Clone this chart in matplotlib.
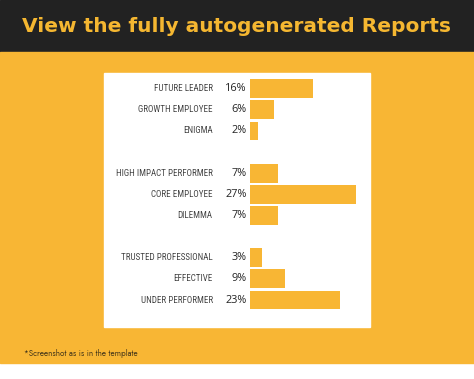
import matplotlib.pyplot as plt
from matplotlib.patches import Rectangle

categories = ["FUTURE LEADER", "GROWTH EMPLOYEE", "ENIGMA",
              "HIGH IMPACT PERFORMER", "CORE EMPLOYEE", "DILEMMA",
              "TRUSTED PROFESSIONAL", "EFFECTIVE", "UNDER PERFORMER"]
values = [16, 6, 2, 7, 27, 7, 3, 9, 23]
positions = [0, 1, 2, 4, 5, 6, 8, 9, 10]

orange = "#F8B634"
dark = "#222222"

fig = plt.figure(figsize=(4.74, 3.79), dpi=100)
W, H = 474, 379

# background blocks
fig.patches.append(Rectangle((0, 1 - 52 / H), 1, 52 / H, transform=fig.transFigure, color=dark, zorder=-10))
fig.patches.append(Rectangle((0, 1 - 363 / H), 1, (363 - 52) / H, transform=fig.transFigure, color=orange, zorder=-10))
fig.patches.append(Rectangle((104 / W, 1 - 327 / H), (370 - 104) / W, (327 - 73) / H,
                             transform=fig.transFigure, color="white", zorder=-9))

fig.text(0.5, 1 - 26 / H, "View the fully autogenerated Reports", ha="center", va="center",
         color="#F5B731", fontsize=14.5, fontweight="bold", family="DejaVu Sans")
fig.text(24 / W, 1 - 353 / H, "*Screenshot as is in the template", ha="left", va="center",
         color="#4a3a1a", fontsize=5.9, family=["Jost", "Lato"])

ax = fig.add_axes([250 / W, 1 - 310.6 / H, 118 / W, (310.6 - 78.1) / H], zorder=1)
ax.barh(positions, values, height=0.89, color=orange)
ax.set_xlim(0, 30)
ax.set_ylim(10.5, -0.5)
ax.axis("off")

for p, c, v in zip(positions, categories, values):
    ax.annotate(c, (0, p), xytext=(-26.9, 0), textcoords="offset points", ha="right", va="center",
                fontsize=6.5, color="#444444", family=["Roboto Condensed", "DejaVu Sans"])
    ax.annotate(str(v) + "%", (0, p), xytext=(-2.4, 0), textcoords="offset points", ha="right",
                va="center", fontsize=7.8, color="#222222", family="Open Sans")

fig.savefig("out.png", dpi=100)
